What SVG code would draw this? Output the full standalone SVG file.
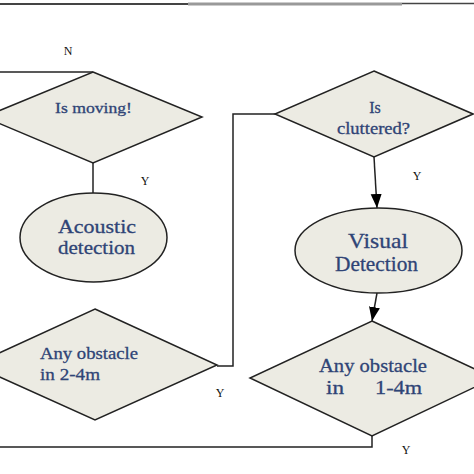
<svg xmlns="http://www.w3.org/2000/svg" width="474" height="474" viewBox="0 0 474 474">
<style>
.shape{fill:#ecebe3;stroke:#222;stroke-width:1.5}
.conn{fill:none;stroke:#222;stroke-width:1.5}
.t{font-family:"Liberation Serif","Times New Roman",serif;fill:#2f4476;stroke:#2f4476;stroke-width:0.3}
.lbl{font-family:"Liberation Serif","Times New Roman",serif;fill:#111;font-size:12px;text-anchor:middle}
</style>
<defs>
<marker id="arr" markerUnits="userSpaceOnUse" markerWidth="14" markerHeight="14" viewBox="0 0 14 14" refX="14" refY="7" orient="auto">
<path d="M0,1.5 L14,7 L0,12.5 Z" fill="#000"/>
</marker>
</defs>
<rect width="474" height="474" fill="#fff"/>
<g id="frame">
<line x1="0" y1="4" x2="188" y2="4" stroke="#444" stroke-width="2"/>
<line x1="188" y1="4" x2="402" y2="4" stroke="#999" stroke-width="3"/>
<line x1="402" y1="3.5" x2="474" y2="3.5" stroke="#444" stroke-width="1.5"/>
</g>
<g id="connectors">
<polyline class="conn" points="0,72 93,72"/>
<line class="conn" x1="93" y1="163" x2="93" y2="193"/>
<polyline class="conn" points="217,366 233,366 233,114 275,114"/>
<line class="conn" x1="374" y1="157" x2="377" y2="208" marker-end="url(#arr)"/>
<line class="conn" x1="377" y1="293" x2="372" y2="321" marker-end="url(#arr)"/>
<polyline class="conn" points="372,436 372,447 0,447" stroke="#444" stroke-width="2"/>
</g>
<g id="is-moving">
<polygon class="shape" points="93,72 202,117 93,163 -16,117"/>
<text class="t" x="55" y="113" font-size="15" textLength="77" lengthAdjust="spacingAndGlyphs">Is moving!</text>
</g>
<g id="acoustic">
<ellipse class="shape" cx="93.5" cy="237.5" rx="73.5" ry="44.5"/>
<text class="t" x="58" y="233" font-size="19" textLength="78" lengthAdjust="spacingAndGlyphs">Acoustic</text>
<text class="t" x="58" y="254" font-size="19" textLength="77" lengthAdjust="spacingAndGlyphs">detection</text>
</g>
<g id="obstacle-2-4">
<polygon class="shape" points="95,309 217,365 95,420 -27,365"/>
<text class="t" x="40" y="359" font-size="17" textLength="98" lengthAdjust="spacingAndGlyphs">Any obstacle</text>
<text class="t" x="40" y="380" font-size="17" textLength="60" lengthAdjust="spacingAndGlyphs">in 2-4m</text>
</g>
<g id="is-cluttered">
<polygon class="shape" points="374,71 473,114 374,157 275,114"/>
<text class="t" x="375" y="113" font-size="16" text-anchor="middle">Is</text>
<text class="t" x="337" y="134" font-size="16" textLength="73" lengthAdjust="spacingAndGlyphs">cluttered?</text>
</g>
<g id="visual">
<ellipse class="shape" cx="378.5" cy="250.5" rx="83.5" ry="42.5"/>
<text class="t" x="348" y="248" font-size="22" textLength="60" lengthAdjust="spacingAndGlyphs">Visual</text>
<text class="t" x="335" y="271" font-size="22" textLength="83" lengthAdjust="spacingAndGlyphs">Detection</text>
</g>
<g id="obstacle-1-4">
<polygon class="shape" points="372,321 494,378 372,436 250,378"/>
<text class="t" x="319" y="372" font-size="19" textLength="108" lengthAdjust="spacingAndGlyphs">Any obstacle</text>
<text class="t" x="326" y="394" font-size="19" textLength="18" lengthAdjust="spacingAndGlyphs">in</text>
<text class="t" x="375" y="394" font-size="19" textLength="47" lengthAdjust="spacingAndGlyphs">1-4m</text>
</g>
<g id="labels">
<text class="lbl" x="68" y="55">N</text>
<text class="lbl" x="145" y="185">Y</text>
<text class="lbl" x="417" y="180">Y</text>
<text class="lbl" x="220" y="397">Y</text>
<text class="lbl" x="406" y="454">Y</text>
</g>
</svg>
